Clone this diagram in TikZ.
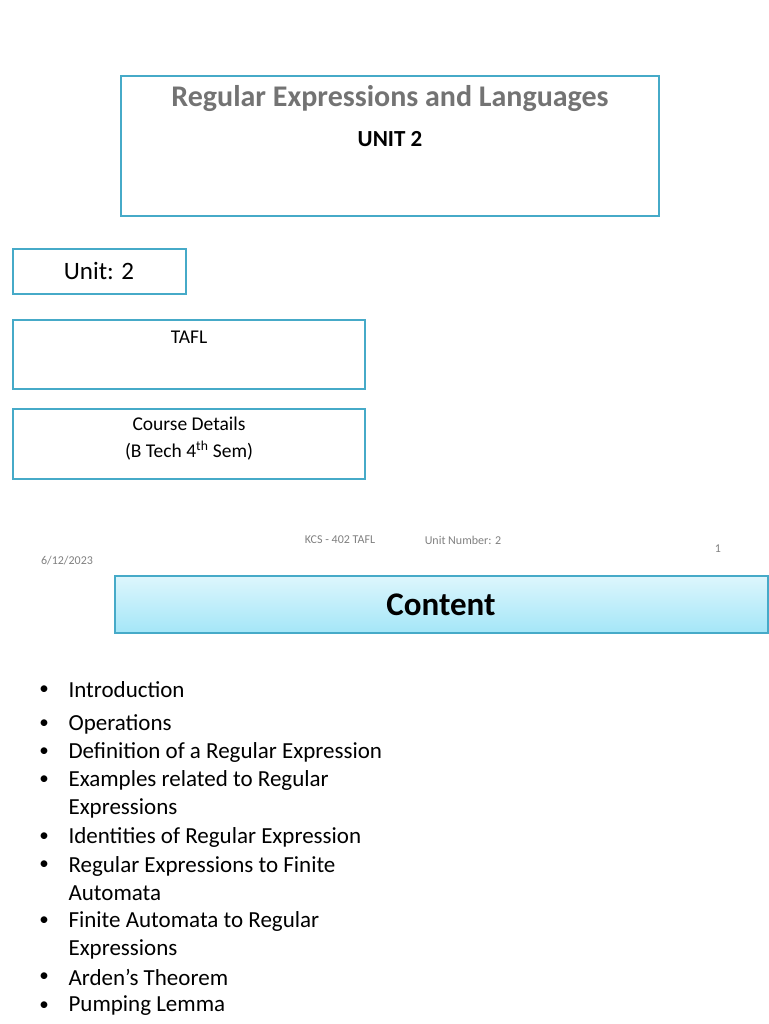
\documentclass[tikz,border=0pt]{standalone}
\usepackage{fontspec}
\setmainfont{Carlito}
\begin{document}
\begin{tikzpicture}[x=1pt,y=-1pt,
  foot/.style={text=gray, font=\fontsize{12}{14}\selectfont},
  item/.style={anchor=west, font=\fontsize{23}{28}\selectfont, align=left}]
\useasboundingbox (0,0) rectangle (768,1024);
\definecolor{bx}{HTML}{46AAC8}
\draw[draw=bx,line width=1.3pt] (121,76) rectangle (659,216);
\node (title) [text=gray!90!black, font=\bfseries\fontsize{30}{34}\selectfont] at (390,99) {Regular Expressions and Languages};
\node (unit) [font=\bfseries\fontsize{23}{26}\selectfont] at (390,139) {UNIT 2};
\draw[draw=bx,line width=1.3pt] (13,249) rectangle (186,294);
\node (u2) [font=\fontsize{25}{28}\selectfont] at (99,271) {Unit: 2};
\draw[draw=bx,line width=1.3pt] (13,320) rectangle (365,389);
\node (tafl) [font=\fontsize{19.5}{22}\selectfont] at (189,337) {TAFL};
\draw[draw=bx,line width=1.3pt] (13,409) rectangle (365,479);
\node (cd) [font=\fontsize{19.5}{27}\selectfont, align=center] at (189,439) {Course Details\\(B Tech 4\textsuperscript{th} Sem)};
\node (f1) [foot] at (340,540) {KCS - 402 TAFL};
\node (f2) [foot] at (463,540) {Unit Number: 2};
\node (f3) [foot] at (718,549) {1};
\node (f4) [foot] at (67,561) {6/12/2023};
\definecolor{ctop}{HTML}{DDF6FC}\definecolor{cbot}{HTML}{A4E6F8}
\shade[top color=ctop,bottom color=cbot] (115,576) rectangle (768,633);
\draw[draw=bx,line width=1.3pt] (115,576) rectangle (768,633);
\node (content) [font=\bfseries\fontsize{33}{36}\selectfont] at (441,605) {Content};
\foreach \y/\t in {690/Introduction,724/Operations,752/Definition of a Regular Expression,794/{Examples related to Regular\\Expressions},837/Identities of Regular Expression,879/{Regular Expressions to Finite\\Automata},935/{Finite Automata to Regular\\Expressions},977/Arden\symbol{39}s Theorem,1006/Pumping Lemma}{
  \node[item] at (65,\y) {\t};
}
\foreach \y in {690,724,752,780,837,865,921,977,1006}{
  \node[font=\fontsize{19}{22}\selectfont] at (44,\y) {•};
}
\end{tikzpicture}
\end{document}
